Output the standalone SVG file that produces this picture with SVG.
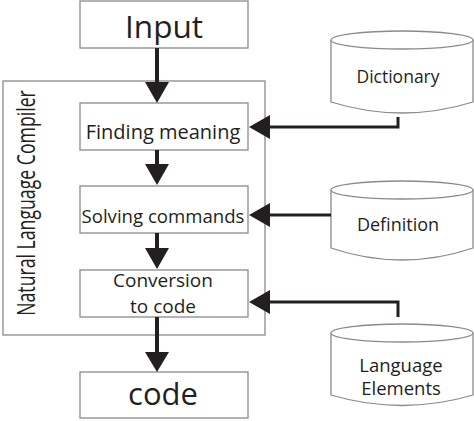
<svg xmlns="http://www.w3.org/2000/svg" width="474" height="421" viewBox="0 0 474 421">
<defs>
<style>
.box{fill:#fff;stroke:#8a8a8a;stroke-width:1.3}
.cyl{fill:#fff;stroke:#8a8a8a;stroke-width:1.3}
.t{font-family:"Open Sans","Liberation Sans",sans-serif;fill:#231f20;text-anchor:middle}
.v{stroke:#231f20;stroke-width:4;fill:none}
.h{stroke:#231f20;stroke-width:3;fill:none}
.ah{fill:#231f20}
</style>
</defs>
<rect width="474" height="421" fill="#fff"/>
<g id="compiler">
<rect class="box" x="3" y="81" width="262" height="254"/>
<text class="t" transform="translate(35,203) rotate(-90) scale(0.68,1)" font-size="26">Natural Language Compiler</text>
</g>
<g id="input">
<rect class="box" x="80" y="1" width="168" height="47"/>
<text class="t" x="164" y="38" font-size="31.5">Input</text>
</g>
<g id="finding">
<rect class="box" x="80" y="103" width="168" height="47"/>
<text class="t" x="163" y="139" font-size="20">Finding meaning</text>
</g>
<g id="solving">
<rect class="box" x="80" y="186" width="168" height="47"/>
<text class="t" x="163" y="223" font-size="18.6">Solving commands</text>
</g>
<g id="conversion">
<rect class="box" x="80" y="270" width="168" height="47"/>
<text class="t" x="163" y="287" font-size="19">Conversion</text>
<text class="t" x="163" y="313" font-size="19">to code</text>
</g>
<g id="code">
<rect class="box" x="80" y="372" width="168" height="46"/>
<text class="t" x="163" y="405" font-size="31">code</text>
</g>
<g id="dictionary">
<path class="cyl" d="M331,40 V102 Q402,124 473,102 V40"/>
<ellipse class="cyl" cx="402" cy="40" rx="71" ry="9"/>
<text class="t" x="398" y="83" font-size="17.5">Dictionary</text>
</g>
<g id="definition">
<path class="cyl" d="M331,190 V248 Q402,272 473,248 V190"/>
<ellipse class="cyl" cx="402" cy="190" rx="71" ry="9"/>
<text class="t" x="398" y="231" font-size="18">Definition</text>
</g>
<g id="elements">
<path class="cyl" d="M331,333 V395 Q402,416 473,395 V333"/>
<ellipse class="cyl" cx="402" cy="333" rx="71" ry="9"/>
<text class="t" x="401" y="372" font-size="18.5">Language</text>
<text class="t" x="401" y="395" font-size="18.5">Elements</text>
</g>
<g id="connectors">
<line class="v" x1="157" y1="48" x2="157" y2="84"/>
<polygon class="ah" points="145,82 169,82 157,103"/>
<line class="v" x1="157" y1="150" x2="157" y2="166"/>
<polygon class="ah" points="145,164 169,164 157,185"/>
<line class="v" x1="157" y1="233" x2="157" y2="250"/>
<polygon class="ah" points="145,248 169,248 157,269"/>
<line class="v" x1="157" y1="317" x2="157" y2="354"/>
<polygon class="ah" points="145,352 169,352 157,372"/>
<polyline class="h" points="398,117 398,127 268,127"/>
<polygon class="ah" points="270,115 270,139 249,127"/>
<polyline class="h" points="331,215 268,215"/>
<polygon class="ah" points="270,203 270,227 249,215"/>
<polyline class="h" points="398,317 398,302 268,302"/>
<polygon class="ah" points="270,290 270,314 249,302"/>
</g>
</svg>
